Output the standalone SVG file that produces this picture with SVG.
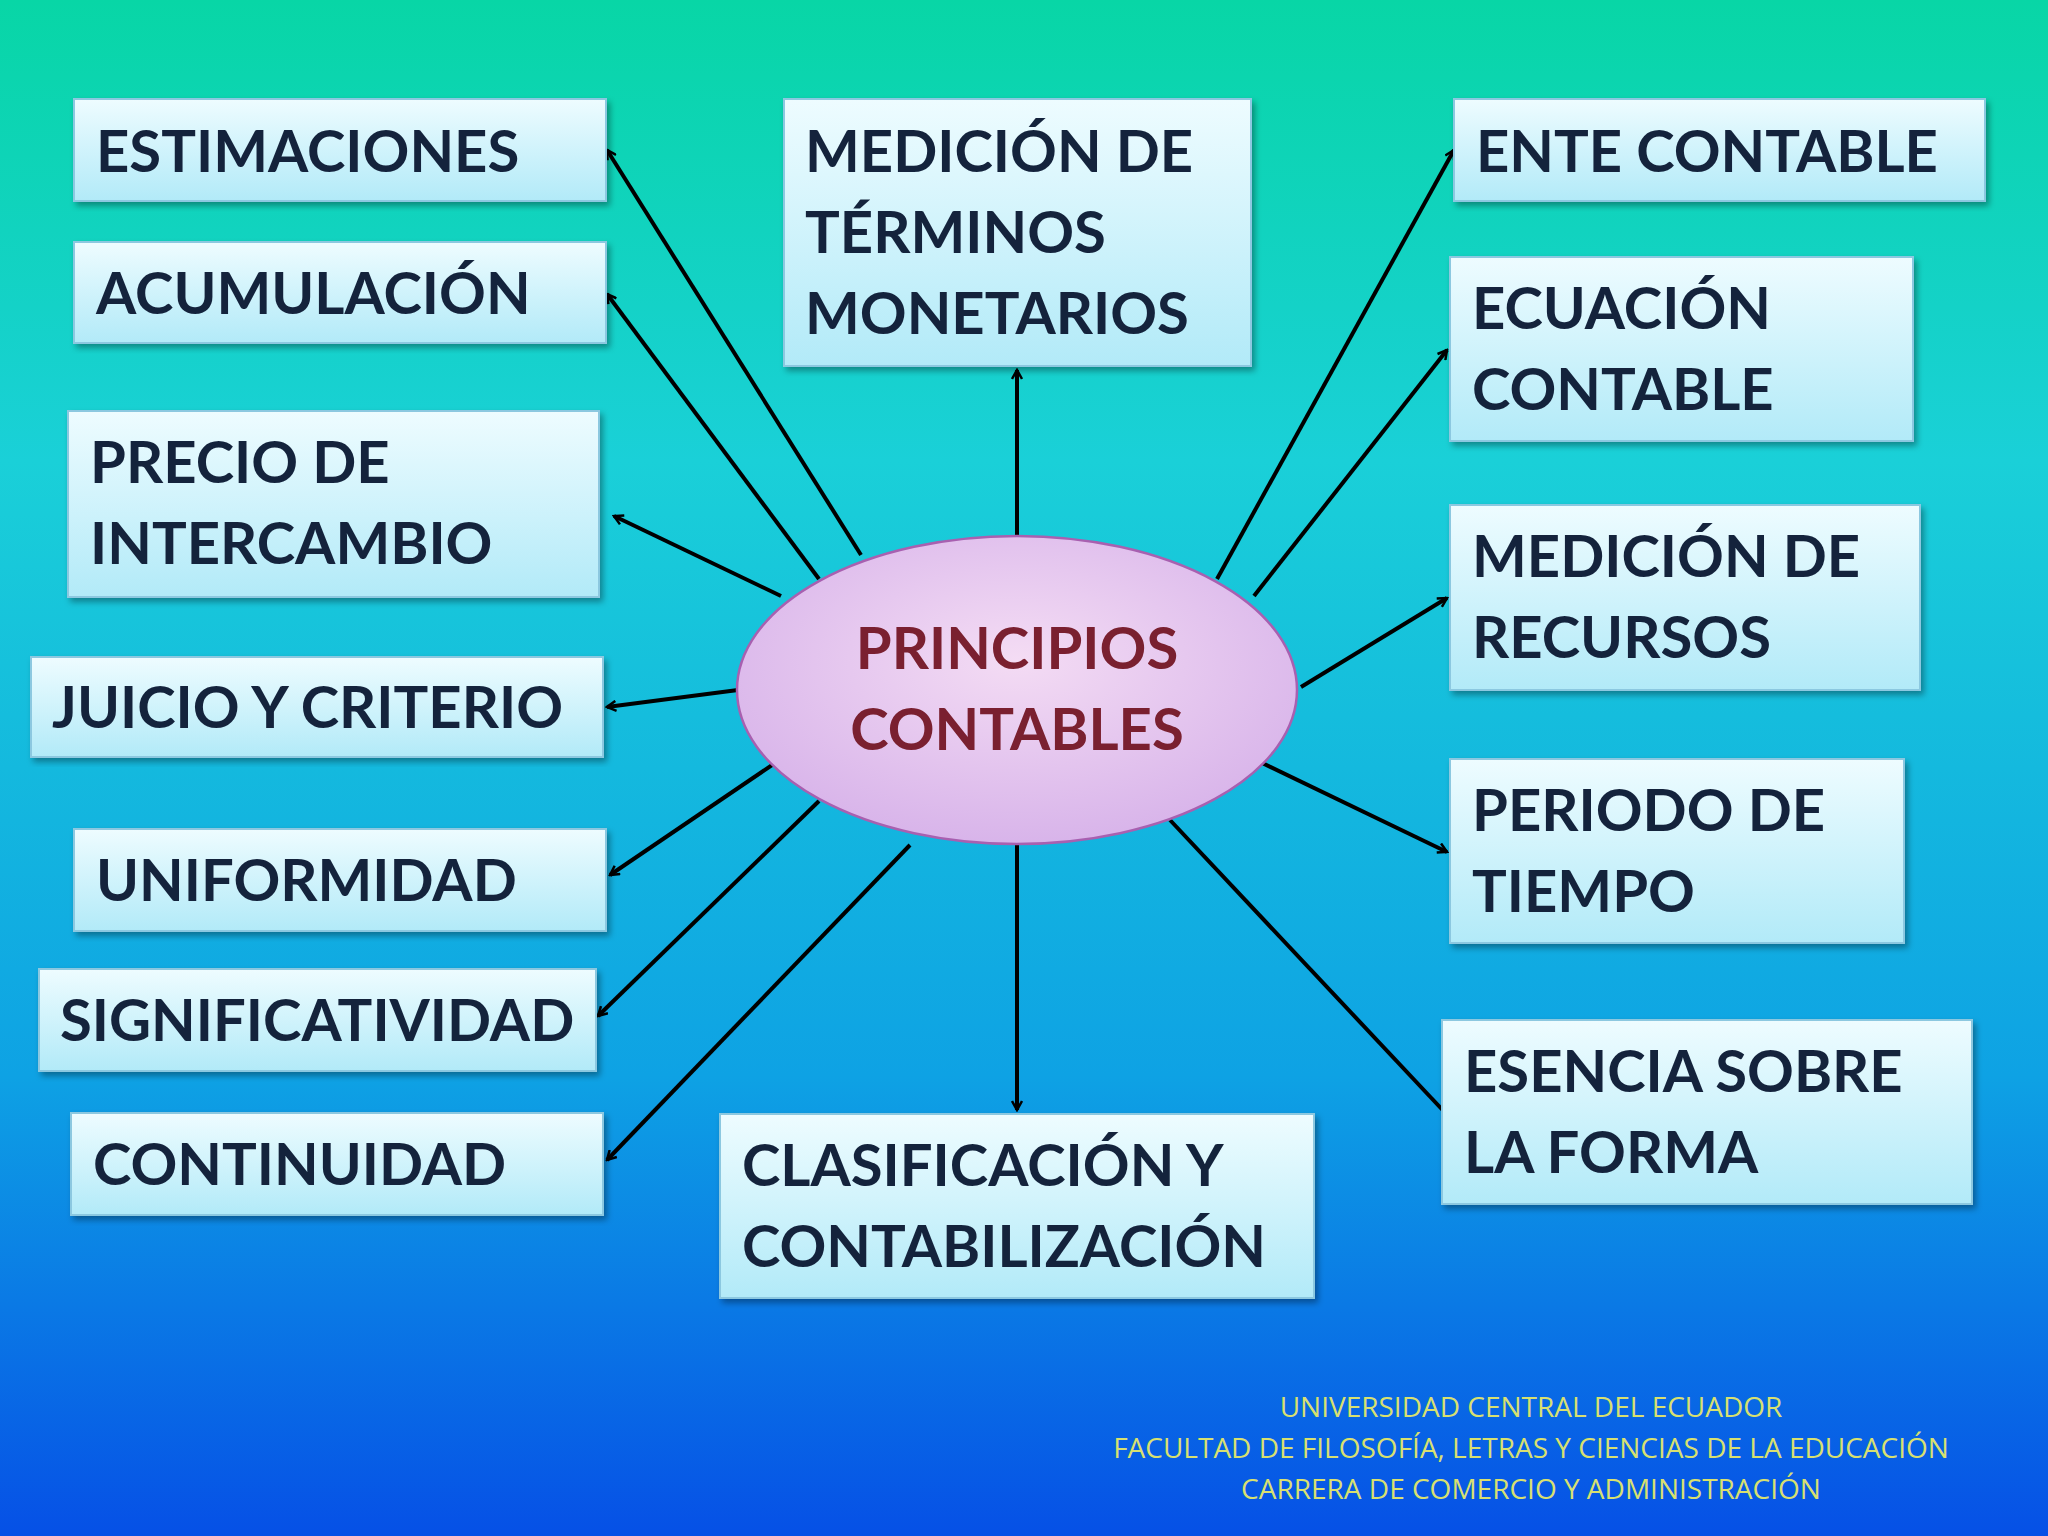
<svg xmlns="http://www.w3.org/2000/svg" width="2048" height="1536" viewBox="0 0 2048 1536">
<defs>
<linearGradient id="bg" x1="0" y1="0" x2="0" y2="1">
<stop offset="0" stop-color="#08d6a6"/><stop offset="0.3" stop-color="#1ad0d8"/><stop offset="0.7" stop-color="#0ea2e4"/><stop offset="1" stop-color="#0650e6"/>
</linearGradient>
<linearGradient id="box" x1="0" y1="0" x2="0" y2="1">
<stop offset="0" stop-color="#eefcff"/><stop offset="1" stop-color="#b2eaf8"/>
</linearGradient>
<radialGradient id="ell" cx="0.5" cy="0.4" r="0.6">
<stop offset="0" stop-color="#f4dcf4"/><stop offset="1" stop-color="#d8b4ea"/>
</radialGradient>
<marker id="ah" viewBox="0 0 12 12" refX="10" refY="6" markerWidth="12" markerHeight="12" markerUnits="userSpaceOnUse" orient="auto">
<path d="M1,1 L10,6 L1,11" fill="none" stroke="#000" stroke-width="2.5"/>
</marker>
<filter id="sh" x="-5%" y="-5%" width="110%" height="115%"><feDropShadow dx="3" dy="4" stdDeviation="3" flood-opacity="0.35"/></filter>
</defs>
<style>
.b{fill:url(#box);stroke:#8cc8e0;stroke-width:2;filter:url(#sh)}
.t{font-family:Lato,"Open Sans",sans-serif;font-weight:bold;font-size:58px;fill:#14233c}
.c{stroke:#000;stroke-width:4;fill:none;marker-end:url(#ah)}
.f{font-family:"Open Sans","Liberation Sans",sans-serif;font-size:28px;fill:#d8e070;text-anchor:middle}
</style>
<rect width="2048" height="1536" fill="url(#bg)"/>
<g id="connectors">
<line class="c" x1="861" y1="555" x2="607" y2="150"/>
<line class="c" x1="819" y1="579" x2="607" y2="294"/>
<line class="c" x1="781" y1="596" x2="614" y2="516"/>
<line class="c" x1="738" y1="690" x2="607" y2="707"/>
<line class="c" x1="781" y1="759" x2="610" y2="875"/>
<line class="c" x1="819" y1="801" x2="598" y2="1016"/>
<line class="c" x1="910" y1="845" x2="607" y2="1160"/>
<line class="c" x1="1017" y1="535" x2="1017" y2="370"/>
<line class="c" x1="1017" y1="845" x2="1017" y2="1110"/>
<line class="c" x1="1217" y1="579" x2="1454" y2="150"/>
<line class="c" x1="1254" y1="596" x2="1447" y2="350"/>
<line class="c" x1="1301" y1="687" x2="1447" y2="598"/>
<line class="c" x1="1254" y1="759" x2="1447" y2="852"/>
<line class="c" x1="1170" y1="820" x2="1452" y2="1120"/>
</g>
<g id="center"><ellipse cx="1017" cy="690" rx="280" ry="154" fill="url(#ell)" stroke="#a860b0" stroke-width="2.5"/>
<text x="1017" y="669" text-anchor="middle" class="t" style="fill:#7a2030">PRINCIPIOS</text>
<text x="1017" y="750" text-anchor="middle" class="t" style="fill:#7a2030">CONTABLES</text></g>
<g id="n1"><rect class="b" x="74" y="99" width="532" height="102"/><text class="t" x="96" y="172">ESTIMACIONES</text></g>
<g id="n2"><rect class="b" x="74" y="242" width="532" height="101"/><text class="t" x="96" y="314">ACUMULACIÓN</text></g>
<g id="n3"><rect class="b" x="68" y="411" width="531" height="186"/><text class="t" x="90" y="483">PRECIO DE</text><text class="t" x="90" y="564">INTERCAMBIO</text></g>
<g id="n4"><rect class="b" x="31" y="657" width="572" height="100"/><text class="t" x="52" y="728">JUICIO Y CRITERIO</text></g>
<g id="n5"><rect class="b" x="74" y="829" width="532" height="102"/><text class="t" x="96" y="901">UNIFORMIDAD</text></g>
<g id="n6"><rect class="b" x="39" y="969" width="557" height="102"/><text class="t" x="60" y="1041">SIGNIFICATIVIDAD</text></g>
<g id="n7"><rect class="b" x="71" y="1113" width="532" height="102"/><text class="t" x="93" y="1185">CONTINUIDAD</text></g>
<g id="n8"><rect class="b" x="784" y="99" width="467" height="267"/><text class="t" x="805" y="172">MEDICIÓN DE</text><text class="t" x="805" y="253">TÉRMINOS</text><text class="t" x="805" y="334">MONETARIOS</text></g>
<g id="n9"><rect class="b" x="720" y="1114" width="594" height="184"/><text class="t" x="742" y="1186">CLASIFICACIÓN Y</text><text class="t" x="742" y="1267">CONTABILIZACIÓN</text></g>
<g id="n10"><rect class="b" x="1454" y="99" width="531" height="102"/><text class="t" x="1476" y="172">ENTE CONTABLE</text></g>
<g id="n11"><rect class="b" x="1450" y="257" width="463" height="184"/><text class="t" x="1472" y="329">ECUACIÓN</text><text class="t" x="1472" y="410">CONTABLE</text></g>
<g id="n12"><rect class="b" x="1450" y="505" width="470" height="185"/><text class="t" x="1472" y="577">MEDICIÓN DE</text><text class="t" x="1472" y="658">RECURSOS</text></g>
<g id="n13"><rect class="b" x="1450" y="759" width="454" height="184"/><text class="t" x="1472" y="831">PERIODO DE</text><text class="t" x="1472" y="912">TIEMPO</text></g>
<g id="n14"><rect class="b" x="1442" y="1020" width="530" height="184"/><text class="t" x="1464" y="1092">ESENCIA SOBRE</text><text class="t" x="1464" y="1173">LA FORMA</text></g>
<g id="footer">
<text class="f" x="1531" y="1417">UNIVERSIDAD CENTRAL DEL ECUADOR</text>
<text class="f" x="1531" y="1458">FACULTAD DE FILOSOFÍA, LETRAS Y CIENCIAS DE LA EDUCACIÓN</text>
<text class="f" x="1531" y="1499">CARRERA DE COMERCIO Y ADMINISTRACIÓN</text>
</g>
</svg>
